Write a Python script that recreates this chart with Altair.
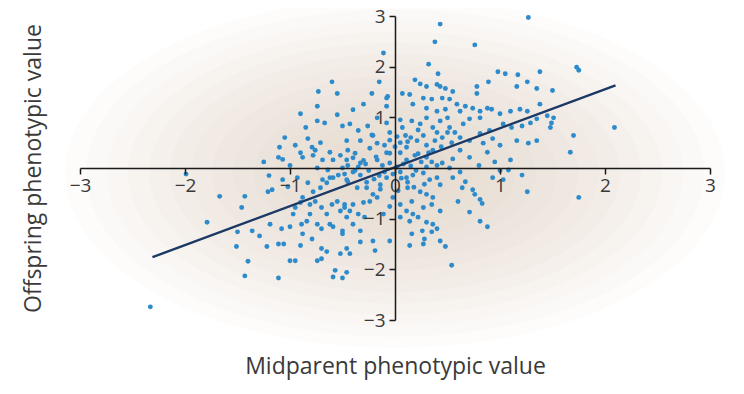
import altair as alt
import pandas as pd

# ---- data (midparent value, offspring value) ----
left_tail = [(-2.33,-2.74),(-1.99,-0.12),(-1.79,-1.07),(-1.67,-0.56),(-1.43,-0.56),(-1.46,-0.78),
             (-1.21,-0.47),(-1.17,-0.43),(-1.07,-0.23),(-0.93,-0.19),(-1.02,-0.37),(-1.50,-1.26),
             (-1.36,-1.24),(-1.19,-1.11),(-1.29,-1.34),(-1.51,-1.55),(-1.22,-1.55),(-1.11,-1.50),
             (-1.06,-1.50),(-1.40,-1.84),(-1.00,-1.83),(-0.95,-1.83),(-1.43,-2.13),(-1.11,-2.17),
             (-0.90,-1.53),(-0.79,-1.40),(-0.88,-1.30),(-1.00,-1.16),(-1.08,-1.20),(-0.84,-1.05),
             (-0.74,-1.83),(-0.70,-1.79),(-0.70,-1.59),(-0.65,-1.65),(-0.57,-2.02),(-0.50,-2.17),
             (-0.52,-1.69),(-0.59,-2.15),(-0.46,-2.06)]
lower_left = [(-0.74,0.00),(-0.64,-0.04),(-0.62,-0.19),(-0.69,-0.23),(-0.65,-0.29),(-0.59,-0.19),
              (-0.54,-0.14),(-0.46,-0.23),(-0.83,-0.29),(-0.78,-0.47),(-0.71,-0.39),(-0.88,-0.58),
              (-0.90,-0.68),(-0.81,-0.72),(-0.76,-0.66),(-0.70,-0.78),(-0.65,-0.91),(-0.60,-0.72),
              (-0.55,-0.66),(-0.52,-0.85),(-0.48,-0.72),(-0.46,-0.97),(-0.62,-1.11),(-0.59,-1.16),
              (-0.50,-1.24),(-0.50,-1.30),(-0.81,-0.91),(-0.97,-0.91),(-0.89,-1.11),(-0.74,-1.11),
              (-0.70,-1.20),(-0.95,-0.78)]
lower_mid = [(-0.50,0.00),(-0.40,-0.08),(-0.33,-0.14),(-0.45,-0.27),(-0.36,-0.39),(-0.27,-0.39),
             (-0.21,-0.52),(-0.17,-0.58),(-0.24,-0.66),(-0.30,-0.68),(-0.40,-0.72),(-0.48,-0.78),
             (-0.43,-0.85),(-0.35,-0.91),(-0.29,-0.97),(-0.40,-1.11),(-0.33,-1.24),(-0.46,-1.59),
             (-0.43,-1.69),(-0.21,-1.44),(-0.19,-1.63),(-0.05,-1.44),(-0.33,-1.46),
             (0.05,-0.08),(0.11,-0.19),(0.17,-0.14),(0.27,-0.10),(0.33,-0.23),(0.40,-0.19),
             (0.43,-0.33),(0.12,-0.39),(0.24,-0.47),(0.30,-0.52),(0.36,-0.58),(0.16,-0.66),
             (0.05,-0.72),(0.11,-0.85),(0.17,-0.91),(0.27,-0.78),(0.35,-0.72),(0.43,-0.85),
             (0.05,-0.97),(0.14,-1.05),(0.22,-0.97),(0.30,-1.07),(0.36,-1.11),(0.26,-1.24),
             (0.16,-1.30),(0.35,-1.26),(0.40,-1.20),(0.14,-1.53),(0.27,-1.50),(0.43,-1.44),
             (0.48,-1.55),(-0.11,-0.91),(-0.05,-0.76),(-0.14,-0.33),(-0.08,-0.19),(-0.02,-0.58),
             (0.28,-1.40)]
lower_right = [(0.52,0.00),(0.62,-0.08),(0.55,-0.19),(0.67,-0.27),(0.64,-0.39),(0.74,-0.43),
               (0.76,-0.52),(0.81,-0.62),(0.83,-0.70),(0.60,-0.66),(0.71,-0.87),(0.81,-1.05),
               (0.88,-1.16),(0.93,-0.19),(1.03,-0.23),(1.21,-0.14),(1.26,-0.47),(0.54,-1.92),
               (1.08,-0.04),(1.75,-0.58)]
upper_left = [(-0.60,1.70),(-0.73,1.51),(-0.55,1.47),(-0.74,1.22),(-0.90,1.07),(-0.74,0.93),
              (-0.67,0.89),(-0.50,0.83),(-0.43,0.87),(-0.83,0.58),(-0.71,0.50),(-0.79,0.41),
              (-0.76,0.35),(-1.10,0.41),(-1.11,0.21),(-1.07,0.17),(-0.88,0.21),(-0.78,0.25),
              (-0.69,0.16),(-0.62,0.31),(-0.52,0.25),(-0.59,0.16),(-0.46,0.54),(-0.45,0.35),
              (-1.25,0.12),(-1.00,0.05),(-0.95,0.45),(-1.05,0.60),(-0.90,0.30),(-0.85,0.80),
              (-1.20,-0.15)]
upper_mid = [(0.32,2.05),(0.41,1.86),(0.19,1.74),(0.24,1.66),(0.30,1.61),(0.40,1.65),(0.48,1.57),
             (-0.22,1.47),(-0.07,1.41),(0.07,1.47),(0.14,1.45),(0.17,1.26),(0.27,1.38),(0.35,1.36),
             (0.45,1.38),(-0.30,1.26),(-0.08,1.22),(0.30,1.18),(0.40,1.12),(0.48,1.16),
             (-0.35,0.74),(-0.26,0.83),(-0.17,0.99),(-0.08,0.89),(-0.05,0.70),(-0.21,0.64),
             (-0.33,0.54),(-0.38,0.29),(-0.24,0.39),(-0.17,0.49),(-0.10,0.45),(-0.05,0.29),
             (0.07,0.80),(0.10,0.64),(0.16,0.93),(0.24,0.87),(0.30,0.99),(0.36,0.80),(0.43,0.93),
             (0.50,0.99),(0.11,0.41),(0.21,0.54),(0.27,0.64),(0.38,0.54),(0.45,0.60),(0.50,0.70),
             (0.19,0.25),(0.11,0.16),(0.30,0.21),(0.05,0.50),(0.00,0.42),(-0.46,0.16),(-0.33,0.10),
             (-0.17,0.16),(0.36,0.35),(-0.15,1.70),(-0.40,1.15),(-0.55,1.05),(-0.08,1.38)]
upper_right = [(0.98,1.90),(1.05,1.86),(1.17,1.84),(1.38,1.90),(0.89,1.70),(1.16,1.61),(1.26,1.70),
               (1.35,1.57),(0.43,1.61),(0.55,1.51),(0.78,1.61),(0.78,1.47),(0.52,1.36),(0.59,1.26),
               (0.62,1.12),(0.67,1.22),(0.74,1.18),(0.81,1.12),(0.88,1.18),(0.92,1.16),(0.81,0.99),
               (0.52,0.80),(0.57,0.70),(0.65,0.87),(0.71,0.97),(1.00,1.07),(1.10,1.12),(1.19,1.16),
               (1.26,1.12),(1.38,1.26),(1.03,0.87),(1.11,0.80),(1.21,0.83),(1.29,0.89),(1.35,0.97),
               (1.45,1.03),(0.54,0.50),(0.62,0.60),(0.71,0.54),(0.81,0.68),(0.90,0.74),(0.93,0.58),
               (0.84,0.49),(0.62,0.35),(0.71,0.21),(0.88,0.31),(1.00,0.45),(1.16,0.54),(1.27,0.49),
               (1.35,0.54),(1.10,0.16),(1.48,0.80),(0.45,0.10),(0.55,0.18),(0.80,0.05),(0.95,0.12),
               (1.00,-0.05)]
outliers = [(1.27,2.97),(0.43,2.84),(0.38,2.49),(0.76,2.43),(-0.11,2.27),(1.73,1.99),(1.75,1.93),
            (1.50,1.53),(1.51,0.99),(1.49,0.89),(1.70,0.64),(1.67,0.31),(2.09,0.80)]
centre = [(-0.12,0.05),(-0.05,0.10),(0.02,0.02),(0.08,0.08),(0.15,0.04),(0.20,-0.05),(-0.10,-0.08),
          (-0.02,-0.12),(0.06,-0.20),(0.12,-0.28),(-0.18,0.22),(-0.08,0.30),(0.05,0.30),(0.22,0.28),
          (0.25,0.12),(-0.25,-0.05),(-0.28,0.08),(-0.20,-0.22),(0.18,-0.38),(-0.14,-0.42),(0.03,-0.45),
          (0.30,0.02),(0.35,0.12),(0.40,0.05),(-0.35,0.02),(-0.40,0.20),(0.28,-0.32),(-0.05,0.55),
          (0.15,0.60),(-0.22,0.65),(0.02,0.62),(0.12,0.52),(0.30,0.45),(0.40,0.70),(0.22,0.75),
          (0.05,0.95),(0.32,0.30),(0.44,0.42),(-0.45,0.05),(-0.38,-0.05),(-0.30,0.15),(-0.15,-0.15),
          (-0.48,-0.12),(-0.27,-0.28)]

fit_x = [-2.31, 2.10]
fit_y = [-1.76, 1.63]

x_ticks = [-3, -2, -1, 0, 1, 2, 3]
y_ticks = [-3, -2, -1, 1, 2, 3]

pts = left_tail + lower_left + lower_mid + lower_right + upper_left + upper_mid + upper_right + outliers + centre
df = pd.DataFrame(pts, columns=["mid", "off"])
line_df = pd.DataFrame({"mid": fit_x, "off": fit_y})
glow_df = pd.DataFrame({"mid": [0.0], "off": [-0.1]})

W, H = 630, 304
FONT = "Open Sans"
TXT = "#3a3a3a"

xscale = alt.Scale(domain=[-3, 3], nice=False, zero=False)
yscale = alt.Scale(domain=[-3, 3], nice=False, zero=False)

xaxis = alt.Axis(values=x_ticks, offset=-H / 2, grid=False, labelFlush=False,
                 domainColor="#1a1a1a", domainWidth=1.5, tickColor="#1a1a1a", tickWidth=1.5,
                 tickSize=6, labelFont=FONT, labelFontSize=19, labelColor=TXT, labelPadding=2,
                 title="Midparent phenotypic value", titleFont=FONT, titleFontSize=23,
                 titleFontWeight="normal", titleColor=TXT, titleY=205,
                 titleBaseline="alphabetic", zindex=1)
yaxis = alt.Axis(values=y_ticks, offset=-W / 2, grid=False, labelFlush=False,
                 domainColor="#1a1a1a", domainWidth=1.5, tickColor="#1a1a1a", tickWidth=1.5,
                 tickSize=6, labelFont=FONT, labelFontSize=19, labelColor=TXT, labelPadding=4,
                 title="Offspring phenotypic value", titleFont=FONT, titleFontSize=23,
                 titleFontWeight="normal", titleColor=TXT, titleX=-355, titleAngle=270,
                 titleBaseline="alphabetic", zindex=1)

X = alt.X("mid:Q", scale=xscale, axis=xaxis)
Y = alt.Y("off:Q", scale=yscale, axis=yaxis)

ellipse = "M -1 0 A 1 0.53 0 1 0 1 0 A 1 0.53 0 1 0 -1 0 Z"
layers = []
for i in range(14):
    a = 330 - i * 21
    layers.append(
        alt.Chart(glow_df).mark_point(shape=ellipse, filled=True, color="#d6bfa8",
                                      opacity=0.05, strokeWidth=0, size=4 * a * a)
        .encode(x=X, y=Y)
    )

dots = alt.Chart(df).mark_circle(size=24, color="#2e8bcb", opacity=1).encode(x=X, y=Y)
fit = alt.Chart(line_df).mark_line(color="#1c3966", strokeWidth=2.4).encode(x=X, y=Y)

chart = alt.layer(*layers, dots, fit).properties(
    width=W, height=H,
    autosize=alt.AutoSizeParams(type="none"),
    padding={"left": 72, "top": 8, "right": 20, "bottom": 62},
    background="white",
).configure_view(stroke=None)

chart.save("out.html", embed_options={"renderer": "svg", "actions": False})
